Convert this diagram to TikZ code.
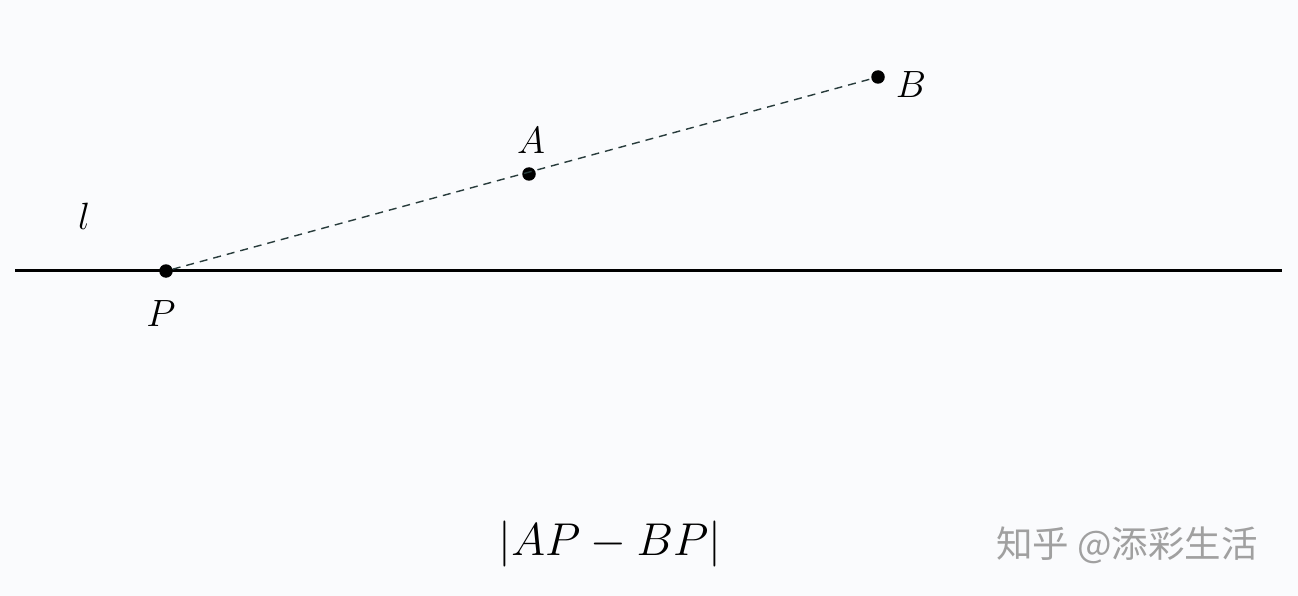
\RequirePackage{fix-cm}
\documentclass[tikz,border=0pt]{standalone}
\usepackage{fontspec}
\newfontfamily\cjk{Noto Sans CJK SC}
\definecolor{bgc}{RGB}{250,251,253}
\definecolor{dashc}{RGB}{40,60,60}
\definecolor{wmc}{RGB}{160,160,160}
\begin{document}
\begin{tikzpicture}[x=1pt,y=-1pt,
  dotpt/.style={circle,fill=black,inner sep=0pt,minimum size=13.5pt},
  lbl/.style={font=\fontsize{38}{40}\selectfont},
  mainline/.style={line width=3pt,black},
  dashline/.style={dashed,dash pattern=on 8pt off 6pt,line width=1.4pt,dashc}]
\fill[bgc] (0,0) rectangle (1298,596);
\useasboundingbox (0,0) rectangle (1298,596);
\coordinate (L1) at (15,270);
\coordinate (L2) at (1282,270);
\draw[mainline] (L1) -- (L2);
\node[dotpt] (P) at (166,271) {};
\node[dotpt] (A) at (529,174) {};
\node[dotpt] (B) at (878,77) {};
\draw[dashline] (P) -- (B);
\node[lbl] (lP) at (161,314) {$P$};
\node[lbl] (lA) at (531,141) {$A$};
\node[lbl] (lB) at (911,85) {$B$};
\node[lbl] (ll) at (84,216) {$l$};
\node[font=\fontsize{46}{48}\selectfont] (f) at (610,544) {$|AP-BP|$};
\node[font=\cjk\fontsize{36.5}{38}\selectfont,text=wmc] (wm) at (1127,545) {知乎 @添彩生活};
\end{tikzpicture}
\end{document}
